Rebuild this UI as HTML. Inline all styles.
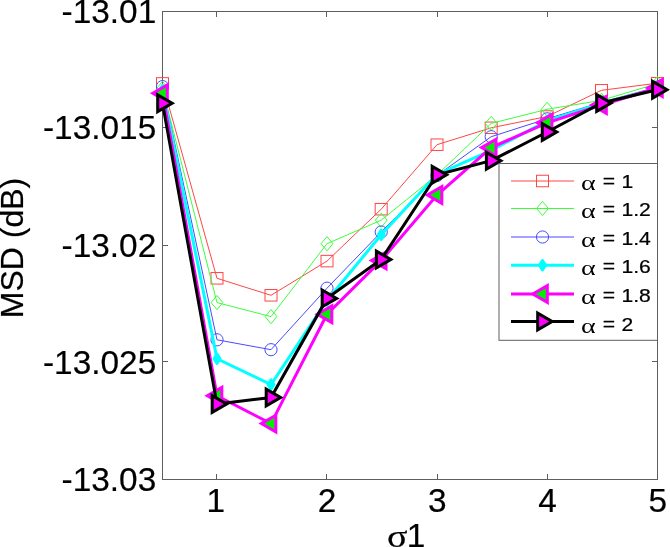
<!DOCTYPE html>
<html lang="en"><head><meta charset="utf-8"><title>MSD vs sigma1</title>
<style>html,body{margin:0;padding:0;background:#fff}svg{display:block}text{font-family:"Liberation Sans",sans-serif;fill:#000;stroke:#000;stroke-width:.2px;stroke-linejoin:round}.lg text{stroke-width:.22px}.lg .sym{stroke:none}.sym{font-family:"Liberation Serif",serif}</style></head><body>
<svg width="670" height="547" viewBox="0 0 670 547">
<rect width="670" height="547" fill="#fff"/>
<g stroke="#5e5e5e" stroke-width="1" fill="none" shape-rendering="crispEdges">
<rect x="162.5" y="11.5" width="495" height="468"/>
<line x1="216.5" y1="479.5" x2="216.5" y2="473.5"/><line x1="216.5" y1="11.5" x2="216.5" y2="17"/>
<line x1="326.5" y1="479.5" x2="326.5" y2="473.5"/><line x1="326.5" y1="11.5" x2="326.5" y2="17"/>
<line x1="437" y1="479.5" x2="437" y2="473.5"/><line x1="437" y1="11.5" x2="437" y2="17"/>
<line x1="547.5" y1="479.5" x2="547.5" y2="473.5"/><line x1="547.5" y1="11.5" x2="547.5" y2="17"/>
<line x1="162.5" y1="127.5" x2="168" y2="127.5"/><line x1="657.5" y1="127.5" x2="651.5" y2="127.5"/>
<line x1="162.5" y1="245.5" x2="168" y2="245.5"/><line x1="657.5" y1="245.5" x2="651.5" y2="245.5"/>
<line x1="162.5" y1="361.5" x2="168" y2="361.5"/><line x1="657.5" y1="361.5" x2="651.5" y2="361.5"/>
</g>
<g font-size="32.5">
<text transform="translate(156.2 22.9) scale(1.027 1)" text-anchor="end">-13.01</text>
<text transform="translate(156.2 139.2) scale(1.027 1)" text-anchor="end">-13.015</text>
<text transform="translate(156.2 256.9) scale(1.027 1)" text-anchor="end">-13.02</text>
<text transform="translate(156.2 373.6) scale(1.027 1)" text-anchor="end">-13.025</text>
<text transform="translate(156.2 490.9) scale(1.027 1)" text-anchor="end">-13.03</text>
<text transform="translate(215.7 511.6) scale(1.027 1)" text-anchor="middle">1</text>
<text transform="translate(327 511.6) scale(1.027 1)" text-anchor="middle">2</text>
<text transform="translate(437.3 511.6) scale(1.027 1)" text-anchor="middle">3</text>
<text transform="translate(547.5 511.6) scale(1.027 1)" text-anchor="middle">4</text>
<text transform="translate(657.8 511.6) scale(1.027 1)" text-anchor="middle">5</text>
</g>
<text transform="translate(23 248) rotate(-90)" text-anchor="middle" font-size="32">MSD (dB)</text>
<text class="sym" transform="translate(387 546.8) scale(1.19 1)" font-size="32">σ</text>
<text transform="translate(406.7 546.8) scale(1.027 1)" font-size="32.5">1</text>
<g>
<polyline points="162.5,83.4 217,278.3 271,295.3 327,261.1 381.2,209.2 437,144.7 491.2,127.8 547.1,116.5 601.5,90.3 657.4,83.2" fill="none" stroke="#ff4646" stroke-width="1" stroke-linejoin="miter"/>
<rect x="156.5" y="77.65" width="12" height="11.5" fill="none" stroke="#ff4646" stroke-width="1"/>
<rect x="211" y="272.55" width="12" height="11.5" fill="none" stroke="#ff4646" stroke-width="1"/>
<rect x="265" y="289.55" width="12" height="11.5" fill="none" stroke="#ff4646" stroke-width="1"/>
<rect x="321" y="255.35" width="12" height="11.5" fill="none" stroke="#ff4646" stroke-width="1"/>
<rect x="375.2" y="203.45" width="12" height="11.5" fill="none" stroke="#ff4646" stroke-width="1"/>
<rect x="431" y="138.95" width="12" height="11.5" fill="none" stroke="#ff4646" stroke-width="1"/>
<rect x="485.2" y="122.05" width="12" height="11.5" fill="none" stroke="#ff4646" stroke-width="1"/>
<rect x="541.1" y="110.75" width="12" height="11.5" fill="none" stroke="#ff4646" stroke-width="1"/>
<rect x="595.5" y="84.55" width="12" height="11.5" fill="none" stroke="#ff4646" stroke-width="1"/>
<rect x="651.4" y="77.45" width="12" height="11.5" fill="none" stroke="#ff4646" stroke-width="1"/>
</g>
<g>
<polyline points="162.5,88.5 217,302.6 271,316.6 327,243.7 381.2,220.2 437,175 491.2,123.4 547.1,109.3 601.5,100.3 657.4,83.6" fill="none" stroke="#3cff3c" stroke-width="1" stroke-linejoin="miter"/>
<path d="M162.5 81.4L168.4 88.5L162.5 95.6L156.6 88.5Z" fill="none" stroke="#3cff3c" stroke-width="1"/>
<path d="M217 295.5L222.9 302.6L217 309.7L211.1 302.6Z" fill="none" stroke="#3cff3c" stroke-width="1"/>
<path d="M271 309.5L276.9 316.6L271 323.7L265.1 316.6Z" fill="none" stroke="#3cff3c" stroke-width="1"/>
<path d="M327 236.6L332.9 243.7L327 250.8L321.1 243.7Z" fill="none" stroke="#3cff3c" stroke-width="1"/>
<path d="M381.2 213.1L387.1 220.2L381.2 227.3L375.3 220.2Z" fill="none" stroke="#3cff3c" stroke-width="1"/>
<path d="M437 167.9L442.9 175L437 182.1L431.1 175Z" fill="none" stroke="#3cff3c" stroke-width="1"/>
<path d="M491.2 116.3L497.1 123.4L491.2 130.5L485.3 123.4Z" fill="none" stroke="#3cff3c" stroke-width="1"/>
<path d="M547.1 102.2L553 109.3L547.1 116.4L541.2 109.3Z" fill="none" stroke="#3cff3c" stroke-width="1"/>
<path d="M601.5 93.2L607.4 100.3L601.5 107.4L595.6 100.3Z" fill="none" stroke="#3cff3c" stroke-width="1"/>
<path d="M657.4 76.5L663.3 83.6L657.4 90.7L651.5 83.6Z" fill="none" stroke="#3cff3c" stroke-width="1"/>
</g>
<g>
<polyline points="162.5,86.6 217,339.8 271,349.7 327,288.2 381.2,232 437,175.5 491.2,136.7 547.1,118.8 601.5,102.3 657.4,87" fill="none" stroke="#4a4aff" stroke-width="1" stroke-linejoin="miter"/>
<circle cx="162.5" cy="86.6" r="6.1" fill="none" stroke="#4a4aff" stroke-width="1"/>
<circle cx="217" cy="339.8" r="6.1" fill="none" stroke="#4a4aff" stroke-width="1"/>
<circle cx="271" cy="349.7" r="6.1" fill="none" stroke="#4a4aff" stroke-width="1"/>
<circle cx="327" cy="288.2" r="6.1" fill="none" stroke="#4a4aff" stroke-width="1"/>
<circle cx="381.2" cy="232" r="6.1" fill="none" stroke="#4a4aff" stroke-width="1"/>
<circle cx="437" cy="175.5" r="6.1" fill="none" stroke="#4a4aff" stroke-width="1"/>
<circle cx="491.2" cy="136.7" r="6.1" fill="none" stroke="#4a4aff" stroke-width="1"/>
<circle cx="547.1" cy="118.8" r="6.1" fill="none" stroke="#4a4aff" stroke-width="1"/>
<circle cx="601.5" cy="102.3" r="6.1" fill="none" stroke="#4a4aff" stroke-width="1"/>
<circle cx="657.4" cy="87" r="6.1" fill="none" stroke="#4a4aff" stroke-width="1"/>
</g>
<g>
<polyline points="162.5,90 217,358.8 271,384.5 327,300.5 381.2,234.8 437,174.5 491.2,150.3 547.1,120.8 601.5,103.3 657.4,89" fill="none" stroke="#00ffff" stroke-width="3" stroke-linejoin="miter"/>
<path d="M162.5 85.3L165.5 90L162.5 94.7L159.5 90Z" fill="#00ffff" stroke="#00ffff" stroke-width="3" stroke-linejoin="round"/>
<path d="M217 354.1L220 358.8L217 363.5L214 358.8Z" fill="#00ffff" stroke="#00ffff" stroke-width="3" stroke-linejoin="round"/>
<path d="M271 379.8L274 384.5L271 389.2L268 384.5Z" fill="#00ffff" stroke="#00ffff" stroke-width="3" stroke-linejoin="round"/>
<path d="M327 295.8L330 300.5L327 305.2L324 300.5Z" fill="#00ffff" stroke="#00ffff" stroke-width="3" stroke-linejoin="round"/>
<path d="M381.2 230.1L384.2 234.8L381.2 239.5L378.2 234.8Z" fill="#00ffff" stroke="#00ffff" stroke-width="3" stroke-linejoin="round"/>
<path d="M437 169.8L440 174.5L437 179.2L434 174.5Z" fill="#00ffff" stroke="#00ffff" stroke-width="3" stroke-linejoin="round"/>
<path d="M491.2 145.6L494.2 150.3L491.2 155L488.2 150.3Z" fill="#00ffff" stroke="#00ffff" stroke-width="3" stroke-linejoin="round"/>
<path d="M547.1 116.1L550.1 120.8L547.1 125.5L544.1 120.8Z" fill="#00ffff" stroke="#00ffff" stroke-width="3" stroke-linejoin="round"/>
<path d="M601.5 98.6L604.5 103.3L601.5 108L598.5 103.3Z" fill="#00ffff" stroke="#00ffff" stroke-width="3" stroke-linejoin="round"/>
<path d="M657.4 84.3L660.4 89L657.4 93.7L654.4 89Z" fill="#00ffff" stroke="#00ffff" stroke-width="3" stroke-linejoin="round"/>
</g>
<g>
<polyline points="162.5,93.2 217,395.8 271,423.6 327,314.2 381.2,260.4 437,195 491.2,147.6 547.1,122.8 601.5,105 657.4,88" fill="none" stroke="#ff00ff" stroke-width="3" stroke-linejoin="miter"/>
<path d="M167.32 84.85L167.32 101.55L152.86 93.2Z" fill="#00ee00" stroke="#ff00ff" stroke-width="3" stroke-miterlimit="10"/>
<path d="M221.82 387.45L221.82 404.15L207.36 395.8Z" fill="#00ee00" stroke="#ff00ff" stroke-width="3" stroke-miterlimit="10"/>
<path d="M275.82 415.25L275.82 431.95L261.36 423.6Z" fill="#00ee00" stroke="#ff00ff" stroke-width="3" stroke-miterlimit="10"/>
<path d="M331.82 305.85L331.82 322.55L317.36 314.2Z" fill="#00ee00" stroke="#ff00ff" stroke-width="3" stroke-miterlimit="10"/>
<path d="M386.02 252.05L386.02 268.75L371.56 260.4Z" fill="#00ee00" stroke="#ff00ff" stroke-width="3" stroke-miterlimit="10"/>
<path d="M441.82 186.65L441.82 203.35L427.36 195Z" fill="#00ee00" stroke="#ff00ff" stroke-width="3" stroke-miterlimit="10"/>
<path d="M496.02 139.25L496.02 155.95L481.56 147.6Z" fill="#00ee00" stroke="#ff00ff" stroke-width="3" stroke-miterlimit="10"/>
<path d="M551.92 114.45L551.92 131.15L537.46 122.8Z" fill="#00ee00" stroke="#ff00ff" stroke-width="3" stroke-miterlimit="10"/>
<path d="M606.32 96.65L606.32 113.35L591.86 105Z" fill="#00ee00" stroke="#ff00ff" stroke-width="3" stroke-miterlimit="10"/>
<path d="M662.22 79.65L662.22 96.35L647.76 88Z" fill="#00ee00" stroke="#ff00ff" stroke-width="3" stroke-miterlimit="10"/>
</g>
<g>
<polyline points="162.5,103.3 217,404 271,397.5 327,298.4 381.2,259.5 437,174.7 491.2,160.7 547.1,132 601.5,103 657.4,89.8" fill="none" stroke="#000000" stroke-width="3" stroke-linejoin="miter"/>
<path d="M157.68 94.95L157.68 111.65L172.14 103.3Z" fill="#ff00ff" stroke="#000000" stroke-width="3" stroke-miterlimit="10"/>
<path d="M212.18 395.65L212.18 412.35L226.64 404Z" fill="#ff00ff" stroke="#000000" stroke-width="3" stroke-miterlimit="10"/>
<path d="M266.18 389.15L266.18 405.85L280.64 397.5Z" fill="#ff00ff" stroke="#000000" stroke-width="3" stroke-miterlimit="10"/>
<path d="M322.18 290.05L322.18 306.75L336.64 298.4Z" fill="#ff00ff" stroke="#000000" stroke-width="3" stroke-miterlimit="10"/>
<path d="M376.38 251.15L376.38 267.85L390.84 259.5Z" fill="#ff00ff" stroke="#000000" stroke-width="3" stroke-miterlimit="10"/>
<path d="M432.18 166.35L432.18 183.05L446.64 174.7Z" fill="#ff00ff" stroke="#000000" stroke-width="3" stroke-miterlimit="10"/>
<path d="M486.38 152.35L486.38 169.05L500.84 160.7Z" fill="#ff00ff" stroke="#000000" stroke-width="3" stroke-miterlimit="10"/>
<path d="M542.28 123.65L542.28 140.35L556.74 132Z" fill="#ff00ff" stroke="#000000" stroke-width="3" stroke-miterlimit="10"/>
<path d="M596.68 94.65L596.68 111.35L611.14 103Z" fill="#ff00ff" stroke="#000000" stroke-width="3" stroke-miterlimit="10"/>
<path d="M652.58 81.45L652.58 98.15L667.04 89.8Z" fill="#ff00ff" stroke="#000000" stroke-width="3" stroke-miterlimit="10"/>
</g>
<g class="lg">
<rect x="499" y="163.5" width="158.5" height="176.8" fill="#fff" stroke="#5e5e5e" stroke-width="1"/>
<line x1="511" y1="181" x2="574" y2="181" stroke="#ff4646" stroke-width="1"/>
<rect x="536.5" y="175.25" width="12" height="11.5" fill="none" stroke="#ff4646" stroke-width="1"/>
<text class="sym" transform="translate(581.1 190.1) scale(1.276 1)" font-size="22">α</text>
<text transform="translate(602.7 186.9) scale(1.2 1)" font-size="17.6">=</text>
<text transform="translate(621.41 187.9) scale(1.2 1)" font-size="17.6">1</text>
<line x1="511" y1="208.5" x2="574" y2="208.5" stroke="#3cff3c" stroke-width="1"/>
<path d="M542.5 201.4L548.4 208.5L542.5 215.6L536.6 208.5Z" fill="none" stroke="#3cff3c" stroke-width="1"/>
<text class="sym" transform="translate(581.1 218.3) scale(1.276 1)" font-size="22">α</text>
<text transform="translate(602.7 215.1) scale(1.2 1)" font-size="17.6">=</text>
<text transform="translate(621.41 216.1) scale(1.2 1)" font-size="17.6">1.2</text>
<line x1="511" y1="237" x2="574" y2="237" stroke="#4a4aff" stroke-width="1"/>
<circle cx="542.5" cy="237" r="6.1" fill="none" stroke="#4a4aff" stroke-width="1"/>
<text class="sym" transform="translate(581.1 247.4) scale(1.276 1)" font-size="22">α</text>
<text transform="translate(602.7 244.2) scale(1.2 1)" font-size="17.6">=</text>
<text transform="translate(621.41 245.2) scale(1.2 1)" font-size="17.6">1.4</text>
<line x1="511" y1="265.3" x2="574" y2="265.3" stroke="#00ffff" stroke-width="3"/>
<path d="M542.5 260.6L545.5 265.3L542.5 270L539.5 265.3Z" fill="#00ffff" stroke="#00ffff" stroke-width="3" stroke-linejoin="round"/>
<text class="sym" transform="translate(581.1 275.4) scale(1.276 1)" font-size="22">α</text>
<text transform="translate(602.7 272.2) scale(1.2 1)" font-size="17.6">=</text>
<text transform="translate(621.41 273.2) scale(1.2 1)" font-size="17.6">1.6</text>
<line x1="511" y1="294" x2="574" y2="294" stroke="#ff00ff" stroke-width="3"/>
<path d="M547.32 285.65L547.32 302.35L532.86 294Z" fill="#00ee00" stroke="#ff00ff" stroke-width="3" stroke-miterlimit="10"/>
<text class="sym" transform="translate(581.1 304.2) scale(1.276 1)" font-size="22">α</text>
<text transform="translate(602.7 301) scale(1.2 1)" font-size="17.6">=</text>
<text transform="translate(621.41 302) scale(1.2 1)" font-size="17.6">1.8</text>
<line x1="511" y1="321.5" x2="574" y2="321.5" stroke="#000000" stroke-width="3"/>
<path d="M537.68 313.15L537.68 329.85L552.14 321.5Z" fill="#ff00ff" stroke="#000000" stroke-width="3" stroke-miterlimit="10"/>
<text class="sym" transform="translate(581.1 333) scale(1.276 1)" font-size="22">α</text>
<text transform="translate(602.7 329.8) scale(1.2 1)" font-size="17.6">=</text>
<text transform="translate(621.41 330.8) scale(1.2 1)" font-size="17.6">2</text>
</g>
</svg></body></html>
